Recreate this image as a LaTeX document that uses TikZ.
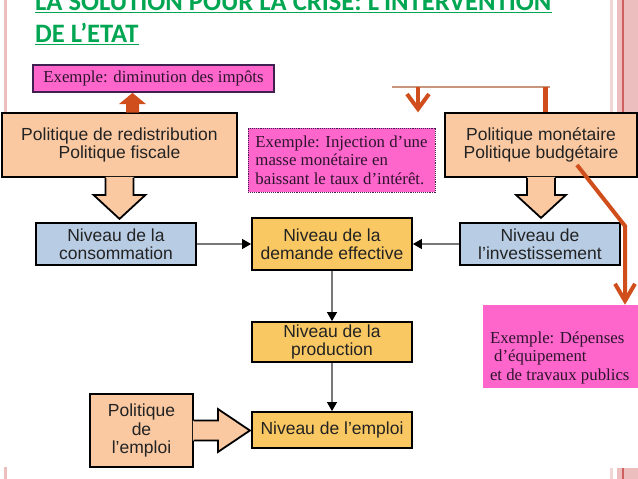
\documentclass[tikz,border=0pt]{standalone}
\usepackage{fontspec}
\setmainfont{Liberation Sans}
\newfontfamily\exfont{Liberation Serif}
\newfontfamily\titlefont{Carlito}
\usetikzlibrary{arrows.meta,calc}

\definecolor{peach}{RGB}{250,201,162}
\definecolor{bluegrey}{RGB}{184,204,228}
\definecolor{gold}{RGB}{250,200,98}
\definecolor{expink}{RGB}{255,102,204}
\definecolor{arrorange}{RGB}{208,78,28}
\definecolor{titlegreen}{RGB}{0,166,81}
\definecolor{framepink}{RGB}{236,190,190}
\definecolor{framelight}{RGB}{242,214,214}
\definecolor{framered}{RGB}{205,95,95}
\definecolor{tanline}{RGB}{200,150,125}
\definecolor{boxtext}{RGB}{35,35,35}
\definecolor{extext}{RGB}{45,20,45}
\definecolor{exborder}{RGB}{64,32,80}
\definecolor{conngray}{RGB}{120,120,120}

\begin{document}
\begin{tikzpicture}[x=1pt,y=-1pt,
  box/.style={draw=black, line width=1.8pt, inner sep=0pt, align=center, text=boxtext,
              font=\fontsize{17.5}{18.5}\selectfont},
  peachbox/.style={box, fill=peach},
  bluebox/.style={box, fill=bluegrey},
  goldbox/.style={box, fill=gold},
  exbox/.style={fill=expink, inner sep=0pt, align=left, text=extext,
                font=\exfont\fontsize{16.8}{18.5}\selectfont},
  extxt/.style={inner sep=0pt, align=left, text=extext,
                font=\exfont\fontsize{16.8}{18.5}\selectfont},
  conn/.style={draw=conngray, line width=1.1pt, -{Triangle[length=9pt,width=10pt,color=black]}},
  blockarrow/.style={draw=black, line width=1.8pt, line join=miter},
  orangeline/.style={draw=arrorange, line width=4pt},
  titletext/.style={inner sep=0pt, anchor=base west, text=titlegreen,
                    font=\titlefont\bfseries\fontsize{26.6}{30}\selectfont},
]
\useasboundingbox (0,0) rectangle (638,479);
\clip (0,0) rectangle (638,479);
\fill[white] (0,0) rectangle (638,479);

% slide frame
\fill[framepink] (3.5,0) rectangle (6.5,113);
\fill[framepink] (3.5,467) rectangle (6.5,479);
\fill[framelight] (610,0) rectangle (613,113);
\fill[framepink] (617,0) rectangle (638,113);
\fill[framered] (622,0) rectangle (623.5,113);
\fill[framelight] (610,468) rectangle (613,479);
\fill[framepink] (617,468) rectangle (638,479);
\fill[framered] (622,468) rectangle (623.5,479);

% title
\node[titletext] (t1) at (35,10) {LA SOLUTION POUR LA CRISE: L’INTERVENTION};
\node[titletext] (t2) at (35,42) {DE L’ETAT};
\draw[titlegreen, line width=1.8pt] ($(t1.base west)+(0,2.5)$) -- ($(t1.base east)+(0,2.5)$);
\draw[titlegreen, line width=1.8pt] ($(t2.base west)+(0,2.5)$) -- ($(t2.base east)+(0,2.5)$);

% main boxes
\node[peachbox, minimum width=235, minimum height=64] (pol1) at (119.5,145)
  {Politique de redistribution\\Politique fiscale};
\node[peachbox, minimum width=192, minimum height=64] (polm) at (541,145)
  {Politique monétaire\\Politique budgétaire};
\node[bluebox, minimum width=160, minimum height=42] (cons) at (116,244)
  {Niveau de la\\consommation};
\node[goldbox, minimum width=160, minimum height=52] (dem) at (332,244)
  {Niveau de la\\demande effective};
\node[bluebox, minimum width=160, minimum height=42] (inv) at (540,244)
  {Niveau de\\l’investissement};
\node[goldbox, minimum width=160, minimum height=40] (prod) at (332,342)
  {Niveau de la\\production};
\node[goldbox, minimum width=160, minimum height=36] (empl) at (332,430)
  {Niveau de l’emploi};
\node[peachbox, minimum width=103, minimum height=73] (polE) at (141.5,430.5)
  {Politique\\de\\l’emploi};

% example boxes
\node[exbox, draw=exborder, line width=1.8pt, minimum width=241, minimum height=27] (ex1) at (153.5,78.5)
  {Exemple: diminution des impôts};
\node[exbox, draw=exborder, line width=0.9pt, densely dotted, minimum width=187, minimum height=64] (ex2) at (341.5,160)
  {Exemple: Injection d’une\\masse monétaire en\\baissant le taux d’intérêt.};
\node[exbox, minimum width=155, minimum height=83] (ex3) at (560.5,346.5) {};
\node[extxt, anchor=west] (ex3t) at ($(ex3.west)+(7,11)$)
  {Exemple: Dépenses\\\hspace{0.25em}d’équipement\\et de travaux publics};

% block arrows
\begin{scope}[shift={(pol1.south)}]
  \fill[peach] (-14,-1) -- (-14,17) -- (-26,17) -- (0,41) -- (26,17) -- (14,17) -- (14,-1) -- cycle;
  \draw[blockarrow] (-14,0) -- (-14,17) -- (-26,17) -- (0,41) -- (26,17) -- (14,17) -- (14,0);
\end{scope}
\begin{scope}[shift={(polm.south)}]
  \fill[peach] (-14,-1) -- (-14,17) -- (-25,17) -- (0,40) -- (25,17) -- (14,17) -- (14,-1) -- cycle;
  \draw[blockarrow] (-14,0) -- (-14,17) -- (-25,17) -- (0,40) -- (25,17) -- (14,17) -- (14,0);
\end{scope}
\begin{scope}[shift={(polE.east)}]
  \fill[peach] (-1,-10) -- (24,-10) -- (24,-21.5) -- (56,0) -- (24,21.5) -- (24,10) -- (-1,10) -- cycle;
  \draw[blockarrow] (0,-10) -- (24,-10) -- (24,-21.5) -- (56,0) -- (24,21.5) -- (24,10) -- (0,10);
\end{scope}

% thin connectors
\draw[conn] (cons) -- (dem);
\draw[conn] (inv) -- (dem);
\draw[conn] (dem) -- (prod);
\draw[conn] (prod) -- (empl);

% orange up arrow
\coordinate (upbase) at ($(pol1.north)+(13,0)$);
\fill[arrorange] ($(upbase)+(-6.5,0.5)$) -- ($(upbase)+(-6.5,-8)$) -- ($(upbase)+(-13.5,-8)$)
  -- (upbase |- ex1.south) -- ($(upbase)+(13.5,-8)$) -- ($(upbase)+(6.5,-8)$) -- ($(upbase)+(6.5,0.5)$) -- cycle;

% top bracket
\coordinate (brL) at (392,87);
\coordinate (brR) at (550,87);
\draw[tanline, line width=2pt] (brL) -- (brR);
\coordinate (chevTip) at (418,109);
\draw[orangeline] (chevTip |- brL) -- (chevTip);
\draw[orangeline, line join=miter] ($(chevTip)+(-11,-15)$) -- (chevTip) -- ($(chevTip)+(11,-15)$);
\coordinate (vR) at ($(polm.north)+(4,0)$);
\draw[orangeline, line width=5pt] (vR |- brR) -- (vR);

% diagonal arrow to example 3
\coordinate (dgS) at (577,165);
\coordinate (dgM) at (625,226);
\coordinate (dgE) at ($(ex3.north)+(64.5,-4)$);
\draw[orangeline, line join=miter] (dgS) -- (dgM) -- (dgE);
\draw[orangeline, line join=miter] ($(dgE)+(-10,-17)$) -- (dgE) -- ($(dgE)+(10,-17)$);

\end{tikzpicture}
\end{document}
